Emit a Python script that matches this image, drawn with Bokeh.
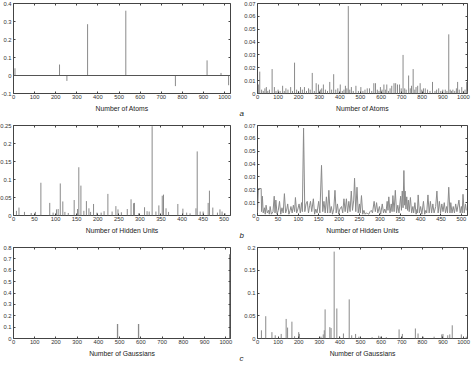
from bokeh.plotting import figure
from bokeh.layouts import gridplot
from bokeh.models import Range1d, FixedTicker, LinearAxis, Span, Title
from bokeh.embed import file_html
from bokeh.resources import INLINE

# ---------------- data ----------------
x_ticks_1024 = [0, 100, 200, 300, 400, 500, 600, 700, 800, 900, 1000]
x_labels_1024 = ["0", "100", "200", "300", "400", "500", "600", "700", "800", "900", "1000"]
x_ticks_512 = [0, 50, 100, 150, 200, 250, 300, 350, 400, 450, 500]
x_labels_512 = ["0", "50", "100", "150", "200", "250", "300", "350", "400", "450", "500"]

y_ticks_1 = [-0.1, 0, 0.1, 0.2, 0.3, 0.4]
y_labels_1 = ["-0.1", "0", "0.1", "0.2", "0.3", "0.4"]
y_ticks_07 = [0, 0.01, 0.02, 0.03, 0.04, 0.05, 0.06, 0.07]
y_labels_07 = ["0", "0.01", "0.02", "0.03", "0.04", "0.05", "0.06", "0.07"]
y_ticks_25 = [0, 0.05, 0.1, 0.15, 0.2, 0.25]
y_labels_25 = ["0", "0.05", "0.1", "0.15", "0.2", "0.25"]
y_ticks_8 = [0, 0.1, 0.2, 0.3, 0.4, 0.5, 0.6, 0.7, 0.8]
y_labels_8 = ["0", "0.1", "0.2", "0.3", "0.4", "0.5", "0.6", "0.7", "0.8"]
y_ticks_2 = [0, 0.05, 0.1, 0.15, 0.2]
y_labels_2 = ["0", "0.05", "0.1", "0.15", "0.2"]

panel_letters = ["a", "b", "c"]

# (a) left: sparse atoms
atoms_a_x = [7, 218, 253, 351, 532, 767, 917, 983, 1019]
atoms_a_y = [0.04, 0.061, -0.03, 0.285, 0.36, -0.059, 0.084, 0.014, -0.054]

# (a) right: dense atoms
atoms_b_x = [4, 11, 20, 28, 36, 43, 50, 58, 71, 82, 90, 100, 110, 122, 130, 138, 148, 161, 170,
             180, 190, 200, 209, 218, 228, 238, 248, 256, 266, 276, 285, 296, 305, 312, 320, 330,
             340, 351, 360, 370, 380, 390, 402, 412, 420, 427, 434, 441, 448, 456, 465, 478, 490,
             502, 512, 522, 533, 544, 555, 565, 573, 582, 590, 597, 605, 614, 621, 628, 636, 644,
             652, 663, 671, 680, 690, 698, 707, 715, 722, 734, 742, 748, 756, 764, 770, 778, 790,
             798, 806, 815, 826, 838, 850, 862, 870, 880, 890, 900, 912, 920, 929, 936, 942, 949,
             958, 966, 972, 980, 992, 1000, 1008, 1016, 1022]
atoms_b_y = [0.007, 0.017, 0.003, 0.002, 0.004, 0.005, 0.002, 0.003, 0.019, 0.005, 0.002, 0.003,
             0.002, 0.006, 0.002, 0.004, 0.003, 0.005, 0.002, 0.024, 0.003, 0.002, 0.005, 0.003,
             0.005, 0.002, 0.004, 0.003, 0.016, 0.002, 0.008, 0.007, 0.003, 0.004, 0.007, 0.003,
             0.002, 0.009, 0.003, 0.015, 0.003, 0.004, 0.007, 0.002, 0.003, 0.006, 0.004, 0.068,
             0.003, 0.005, 0.002, 0.006, 0.002, 0.005, 0.002, 0.003, 0.004, 0.004, 0.002, 0.008,
             0.008, 0.003, 0.002, 0.005, 0.003, 0.007, 0.003, 0.007, 0.002, 0.004, 0.006, 0.008,
             0.008, 0.007, 0.007, 0.004, 0.030, 0.004, 0.003, 0.014, 0.004, 0.006, 0.019, 0.003,
             0.005, 0.006, 0.008, 0.003, 0.004, 0.004, 0.003, 0.002, 0.009, 0.002, 0.003, 0.004,
             0.002, 0.003, 0.003, 0.002, 0.046, 0.003, 0.002, 0.003, 0.002, 0.004, 0.009, 0.003,
             0.005, 0.002, 0.003, 0.009, 0.002]

# (b) left: hidden units
hidden_a_x = [7, 13, 26, 42, 52, 65, 86, 94, 102, 106, 111, 117, 122, 130, 144, 152, 155, 160,
              167, 173, 179, 183, 190, 198, 208, 215, 224, 234, 243, 248, 256, 270, 279, 285, 287,
              297, 311, 317, 322, 329, 338, 345, 353, 356, 362, 368, 390, 402, 411, 419, 433, 436,
              443, 450, 462, 465, 473, 484, 490, 495, 502]
hidden_a_y = [0.013, 0.022, 0.01, 0.007, 0.01, 0.091, 0.035, 0.008, 0.017, 0.018, 0.089, 0.039,
              0.01, 0.007, 0.043, 0.018, 0.134, 0.083, 0.013, 0.04, 0.02, 0.01, 0.032, 0.008, 0.008,
              0.012, 0.06, 0.011, 0.026, 0.017, 0.009, 0.018, 0.045, 0.034, 0.035, 0.006, 0.023,
              0.012, 0.011, 0.248, 0.011, 0.028, 0.055, 0.058, 0.02, 0.01, 0.032, 0.019, 0.008,
              0.006, 0.02, 0.178, 0.011, 0.011, 0.035, 0.069, 0.022, 0.008, 0.017, 0.011, 0.006]

# (b) right: hidden units (line trace)
hidden_b_x = [0, 2, 9, 10, 12, 14, 17, 19, 21, 24, 27, 29, 31, 34, 38, 41, 43, 45, 48, 51, 54, 57,
              60, 63, 66, 69, 72, 74, 77, 80, 82, 85, 88, 91, 93, 96, 99, 102, 105, 108, 110, 113,
              116, 119, 122, 125, 128, 130, 133, 137, 140, 143, 146, 150, 153, 157, 160, 163, 166,
              169, 172, 175, 178, 181, 184, 187, 190, 193, 196, 199, 202, 206, 209, 212, 215, 218,
              221, 224, 227, 230, 233, 236, 238, 241, 244, 247, 250, 252, 255, 258, 261, 264, 267,
              270, 273, 276, 279, 282, 286, 289, 292, 295, 299, 302, 306, 309, 312, 315, 318, 320,
              322, 325, 328, 330, 332, 335, 338, 341, 344, 347, 351, 353, 355, 357, 359, 361, 362,
              364, 366, 368, 370, 372, 375, 378, 381, 383, 386, 389, 391, 392, 394, 397, 400, 403,
              407, 410, 413, 415, 418, 421, 424, 427, 430, 433, 437, 440, 443, 446, 449, 452, 455,
              458, 461, 464, 466, 469, 472, 474, 477, 480, 483, 486, 489, 494, 497, 500, 502, 504,
              507, 510, 512]
hidden_b_y = [0.002, 0.021, 0.021, 0.003, 0.015, 0.002, 0.006, 0.001, 0.008, 0.002, 0.004, 0.001,
              0.007, 0.001, 0.003, 0.015, 0.002, 0.012, 0.001, 0.004, 0.011, 0.001, 0.006, 0.002,
              0.017, 0.002, 0.005, 0.009, 0.001, 0.004, 0.007, 0.002, 0.008, 0.003, 0.014, 0.002,
              0.005, 0.009, 0.002, 0.01, 0.003, 0.068, 0.003, 0.009, 0.011, 0.002, 0.008, 0.011,
              0.003, 0.013, 0.001, 0.005, 0.002, 0.011, 0.002, 0.039, 0.003, 0.011, 0.002, 0.0145,
              0.002, 0.0196, 0.002, 0.007, 0.001, 0.005, 0.0196, 0.002, 0.009, 0.001, 0.005, 0.007,
              0.002, 0.013, 0.003, 0.013, 0.002, 0.011, 0.003, 0.019, 0.004, 0.012, 0.029, 0.003,
              0.022, 0.002, 0.009, 0.002, 0.0155, 0.001, 0.004, 0.001, 0.002, 0.0015, 0.001, 0.003,
              0.004, 0.002, 0.011, 0.003, 0.01, 0.002, 0.007, 0.001, 0.009, 0.002, 0.005, 0.002,
              0.011, 0.004, 0.0145, 0.002, 0.009, 0.003, 0.0155, 0.003, 0.0196, 0.002, 0.008, 0.002,
              0.015, 0.004, 0.019, 0.006, 0.035, 0.008, 0.019, 0.005, 0.0145, 0.004, 0.012, 0.003,
              0.014, 0.002, 0.007, 0.002, 0.01, 0.001, 0.0047, 0.002, 0.016, 0.002, 0.007, 0.001,
              0.011, 0.001, 0.004, 0.002, 0.016, 0.002, 0.011, 0.002, 0.009, 0.002, 0.007, 0.019,
              0.002, 0.011, 0.002, 0.009, 0.003, 0.01, 0.002, 0.007, 0.002, 0.022, 0.002, 0.01,
              0.002, 0.007, 0.002, 0.009, 0.003, 0.012, 0.002, 0.007, 0.002, 0.0165, 0.002, 0.009,
              0.004]

# (c) left: gaussians
gauss_a_x = [490, 589, 1018]
gauss_a_y = [0.127, 0.128, 0.74]

# (c) right: gaussians
gauss_b_x = [19, 40, 70, 86, 115, 139, 146, 167, 180, 200, 203, 308, 319, 324, 328, 351, 357, 372,
             385, 399, 417, 445, 457, 476, 492, 556, 588, 596, 625, 687, 703, 766, 779, 804, 857,
             894, 900, 923, 933, 945, 989, 1013]
gauss_b_y = [0.018, 0.049, 0.014, 0.007, 0.01, 0.043, 0.024, 0.037, 0.005, 0.014, 0.01, 0.004,
             0.009, 0.018, 0.064, 0.025, 0.023, 0.191, 0.066, 0.004, 0.011, 0.086, 0.007, 0.01,
             0.004, 0.003, 0.006, 0.004, 0.003, 0.02, 0.01, 0.022, 0.011, 0.004, 0.004, 0.009,
             0.01, 0.007, 0.009, 0.029, 0.009, 0.004]

# ---------------- styling ----------------
FONT = "Liberation Sans"
INK = "#333333"
STEM = "#8a8a8a"
TICK_SIZE = "5.8px"
TITLE_SIZE = "6.8px"


def make_fig(width, height, xr, yr, xt, xl, yt, yl, title, mbl, mbr, mbt, mbb):
    p = figure(width=width, height=height, x_range=Range1d(*xr), y_range=Range1d(*yr),
               output_backend="svg", toolbar_location=None,
               min_border_left=mbl, min_border_right=mbr,
               min_border_top=mbt, min_border_bottom=mbb)
    p.grid.visible = False
    p.outline_line_color = "#444444"
    p.outline_line_width = 1
    p.border_fill_color = "white"
    p.background_fill_color = "white"

    xa = p.xaxis[0]
    xa.ticker = FixedTicker(ticks=xt)
    xa.major_label_overrides = {t: s for t, s in zip(xt, xl)}
    ya = p.yaxis[0]
    ya.ticker = FixedTicker(ticks=yt)
    ya.major_label_overrides = {t: s for t, s in zip(yt, yl)}
    for ax in (xa, ya):
        ax.axis_line_color = None
        ax.minor_tick_line_color = None
        ax.major_tick_in = 2
        ax.major_tick_out = 0
        ax.major_tick_line_color = "#444444"
        ax.major_label_text_font = FONT
        ax.major_label_text_font_size = TICK_SIZE
        ax.major_label_text_color = INK
        ax.major_label_standoff = 2
    xa.major_label_standoff = 1
    xa.axis_label = title
    xa.axis_label_text_font = FONT
    xa.axis_label_text_font_size = TITLE_SIZE
    xa.axis_label_text_font_style = "normal"
    xa.axis_label_text_color = "#222222"
    xa.axis_label_standoff = 3

    for loc, ticks in (("above", xt), ("right", yt)):
        ax = LinearAxis(ticker=FixedTicker(ticks=ticks), axis_line_color=None,
                        minor_tick_line_color=None, major_tick_in=2, major_tick_out=0,
                        major_tick_line_color="#444444", major_label_text_font_size="0px",
                        major_label_text_color=None, major_label_standoff=0)
        p.add_layout(ax, loc)
    return p


def letter(p, text, standoff, valign):
    kw = dict(text=text, align="left", offset=-18, vertical_align=valign,
              text_font=FONT, text_font_size="8px",
              text_font_style="italic", text_color="#222222")
    try:
        t = Title(standoff=standoff, **kw)
    except Exception:
        t = Title(standoff=0, **kw)
    p.add_layout(t, "below")


LW, RW = 242, 235
H1, H2, H3 = 118, 122, 125

p1 = make_fig(LW, H1, (0, 1028), (-0.1, 0.4), x_ticks_1024, x_labels_1024, y_ticks_1, y_labels_1,
              "Number of Atoms", 16, 9, 3, 25)
p1.add_layout(Span(location=0, dimension="width", line_color="#555555", line_width=1))
p1.segment(x0=atoms_a_x, y0=0, x1=atoms_a_x, y1=atoms_a_y, line_color=STEM, line_width=1)

p2 = make_fig(RW, H1, (0, 1020), (0, 0.07), x_ticks_1024, x_labels_1024, y_ticks_07, y_labels_07,
              "Number of Atoms", 18, 2, 3, 25)
p2.segment(x0=atoms_b_x, y0=0, x1=atoms_b_x, y1=atoms_b_y, line_color=STEM, line_width=1)
letter(p2, panel_letters[0], -11, "top")

p3 = make_fig(LW, H2, (0, 515), (0, 0.25), x_ticks_512, x_labels_512, y_ticks_25, y_labels_25,
              "Number of Hidden Units", 16, 9, 7, 25)
p3.segment(x0=hidden_a_x, y0=0, x1=hidden_a_x, y1=hidden_a_y, line_color=STEM, line_width=1)

p4 = make_fig(RW, H2, (0, 515), (0, 0.07), x_ticks_512, x_labels_512, y_ticks_07, y_labels_07,
              "Number of Hidden Units", 18, 2, 7, 25)
p4.line(hidden_b_x, hidden_b_y, line_color=STEM, line_width=1)
letter(p4, panel_letters[1], -11, "top")

p5 = make_fig(LW, H3, (0, 1022), (0, 0.8), x_ticks_1024, x_labels_1024, y_ticks_8, y_labels_8,
              "Number of Gaussians", 16, 9, 7, 27)
p5.segment(x0=gauss_a_x, y0=0, x1=gauss_a_x, y1=gauss_a_y, line_color=STEM, line_width=1.3)

p6 = make_fig(RW, H3, (0, 1019), (0, 0.2), x_ticks_1024, x_labels_1024, y_ticks_2, y_labels_2,
              "Number of Gaussians", 16, 7, 7, 27)
p6.segment(x0=gauss_b_x, y0=0, x1=gauss_b_x, y1=gauss_b_y, line_color=STEM, line_width=1)
letter(p6, panel_letters[2], -11, "top")

grid = gridplot([[p1, p2], [p3, p4], [p5, p6]], toolbar_location=None)
grid.styles = {"margin": "0px 0px 0px -3px"}

open("out.html", "w").write(file_html(grid, INLINE))
